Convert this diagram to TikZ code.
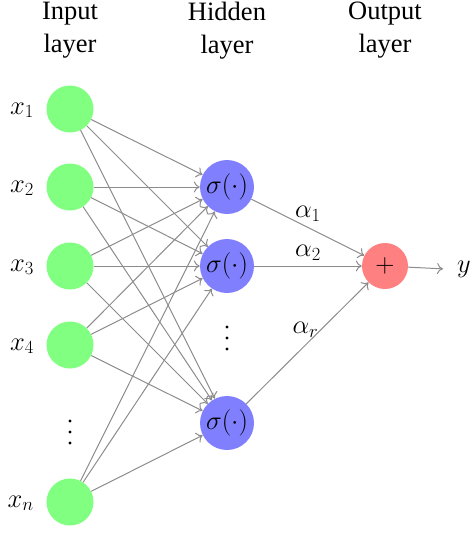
\RequirePackage{fix-cm}
\documentclass[tikz,border=0pt]{standalone}
\usepackage{fontspec}
\setmainfont{Liberation Serif}
\usetikzlibrary{arrows.meta}
\begin{document}
\begin{tikzpicture}[x=1pt,y=-1pt,
  every node/.style={font=\fontsize{26.5}{33}\selectfont},
  inpnode/.style={circle, fill=green!50, minimum size=47pt, inner sep=0pt},
  hidnode/.style={circle, fill=blue!50, minimum size=54pt, inner sep=0pt},
  outnode/.style={circle, fill=red!50, minimum size=46pt, inner sep=0pt},
  conn/.style={draw=gray!90, line width=1pt, -{To[length=6pt,width=11pt]}},
  head/.style={align=center, anchor=north, inner sep=0pt},
  xlbl/.style={anchor=base east, inner sep=0pt},
  wlbl/.style={midway, above=5pt, inner sep=0pt},
  dotmark/.style={circle, fill=black, minimum size=3.2pt, inner sep=0pt}
]
\useasboundingbox (0,0) rectangle (470,560);
% headers
\node[head] (hin)  at (70,2)  {Input\\layer};
\node[head] (hhid) at (227,2) {Hidden\\layer};
\node[head] (hout) at (385,2) {Output\\layer};
% input layer
\node[inpnode] (i1) at (70,109) {};
\node[inpnode] (i2) at (70,187) {};
\node[inpnode] (i3) at (70,266) {};
\node[inpnode] (i4) at (70,345) {};
\node[inpnode] (in) at (70,502) {};
\node[dotmark] (id1) at (70,421) {};
\node[dotmark] (id2) at (70,432) {};
\node[dotmark] (id3) at (70,443) {};
\node[xlbl] (l1) at (34,114) {$x_1$};
\node[xlbl] (l2) at (34,192) {$x_2$};
\node[xlbl] (l3) at (34,271) {$x_3$};
\node[xlbl] (l4) at (34,350) {$x_4$};
\node[xlbl] (ln) at (34,507) {$x_n$};
% hidden layer
\node[hidnode] (h1) at (227,187) {$\sigma(\cdot)$};
\node[hidnode] (h2) at (227,266) {$\sigma(\cdot)$};
\node[hidnode] (h3) at (227,423) {$\sigma(\cdot)$};
\node[dotmark] (hd1) at (227,327) {};
\node[dotmark] (hd2) at (227,338) {};
\node[dotmark] (hd3) at (227,349) {};
% output
\node[outnode] (o) at (385,266) {$+$};
\node[anchor=base west, inner sep=0pt] (y) at (457,272) {$y$};
% connections
\foreach \a in {i1,i2,i3,i4,in}{
  \foreach \b in {h1,h2,h3}{
    \draw[conn] (\a) -- (\b);
  }
}
\draw[conn] (h1) -- node[wlbl] (a1) {$\alpha_1$} (o);
\draw[conn] (h2) -- node[wlbl] (a2) {$\alpha_2$} (o);
\draw[conn] (h3) -- node[wlbl, xshift=-2pt] (ar) {$\alpha_r$} (o);
\draw[conn] (o) -- ([xshift=-14pt]y.west);
\end{tikzpicture}
\end{document}
